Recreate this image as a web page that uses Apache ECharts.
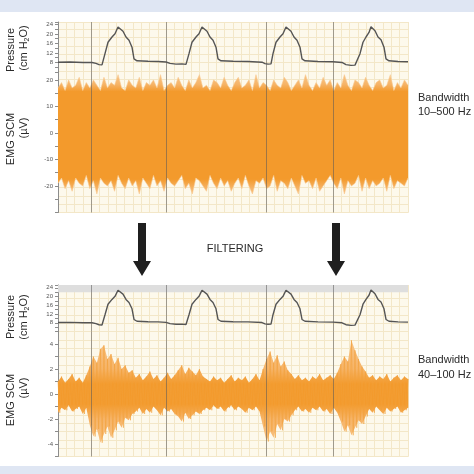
<!DOCTYPE html>
<html lang="en">
<head>
<meta charset="UTF-8">
<title>EMG SCM filtering</title>
<script src="https://cdn.jsdelivr.net/npm/echarts@6/dist/echarts.min.js"></script>
<style>
    html, body { margin: 0; padding: 0; background: #fff; }
    #chart { width: 474px; height: 474px; }
</style>
</head>
<body>
<div id="chart"></div>
<script>
    // pressure trace: [position along strip, cm H2O]
    var pressure = [
        [0, 8.1], [12, 8.2], [25, 8.0], [34, 8.0], [38, 7.6], [41, 7.1], [44, 7.0], [47, 11.7], [50, 16.5],
        [54, 18.7], [57, 20.1], [60, 22.9], [62, 23.3], [65, 21.1], [68, 18.7], [71, 17.3], [74, 14.4],
        [76, 9.5], [79, 8.7], [90, 8.5], [100, 8.4], [108, 8.2],
        [112, 7.6], [118, 7.3], [124, 7.4], [128, 7.2], [131, 11.7], [134, 16.5], [138, 18.7], [141, 20.1],
        [144, 22.9], [146, 23.4], [149, 21.1], [152, 18.7], [155, 17.3], [158, 14.4], [160, 9.5], [163, 8.7],
        [175, 8.5], [190, 8.4], [204, 8.1],
        [207, 7.5], [210, 7.3], [213, 7.4], [215, 11.7], [218, 16.5], [222, 18.7], [225, 20.1], [228, 22.9],
        [230, 23.3], [233, 21.1], [236, 18.7], [239, 17.3], [242, 14.4], [244, 9.5], [247, 8.7], [260, 8.4],
        [275, 8.3], [284, 8.0],
        [288, 7.1], [293, 6.8], [297, 6.9], [299, 7.2], [302, 11.7], [305, 16.5], [308, 18.7], [311, 20.6],
        [313, 23.0], [314, 23.6], [317, 21.3], [320, 18.7], [323, 17.5], [326, 14.4], [328, 9.5], [331, 8.7],
        [340, 8.4], [350, 8.3]
    ];
    // dark marker lines on the strip
    var eventLines = [33.3, 108.3, 208.3, 275];

    // EMG 10-500 Hz, envelope of the raw trace (uV), evenly spaced along the strip
    var emgWideUpper = [
        17, 19, 16, 20, 17, 18, 21, 16, 19, 17,
        20, 18, 16, 21, 17, 19, 18, 22, 17, 16,
        20, 18, 17, 21, 16, 19, 18, 20, 17, 22,
        16, 18, 19, 17, 21, 18, 16, 20, 17, 19,
        22, 17, 18, 16, 20, 19, 17, 21, 18, 16,
        19, 21, 17, 18, 20, 16, 22, 17, 19, 18,
        16, 20, 18, 17, 21, 19, 16, 18, 20, 17,
        22, 18, 16, 19, 17, 21, 18, 20, 16, 19,
        17, 22, 18, 16, 20, 19, 17, 21, 18, 16,
        19, 20, 17, 18, 22, 16, 19, 17, 20, 18
    ];
    var emgWideLower = [
        -19, -17, -21, -18, -22, -17, -19, -20, -16, -21,
        -18, -23, -17, -19, -20, -18, -22, -16, -19, -21,
        -17, -20, -18, -23, -17, -19, -21, -16, -20, -18,
        -22, -17, -19, -20, -18, -16, -21, -19, -23, -17,
        -18, -20, -22, -16, -19, -21, -17, -20, -18, -22,
        -19, -17, -21, -16, -20, -23, -18, -19, -17, -21,
        -20, -16, -22, -18, -19, -21, -17, -20, -23, -16,
        -19, -18, -21, -17, -22, -20, -18, -16, -19, -21,
        -17, -23, -18, -20, -19, -16, -22, -17, -21, -18,
        -20, -19, -17, -22, -16, -21, -18, -19, -20, -17
    ];

    // EMG 40-100 Hz, envelope of the filtered trace (uV)
    var emgNarrowUpper = [
        1.0, 1.4, 0.9, 1.2, 1.6, 1.0, 1.3, 0.9, 1.5,
        2.2, 3.0, 2.5, 3.6, 3.9, 2.8, 3.2, 2.4, 2.9, 2.0, 2.3, 1.7, 1.9,
        1.3, 1.6, 1.1, 1.4, 1.8, 1.2, 1.5, 1.0, 1.3, 1.7, 1.2, 1.5,
        1.9, 2.3, 1.6, 2.1, 1.8, 1.5, 2.0, 1.4,
        1.2, 1.0, 1.4, 1.1, 1.3, 0.9, 1.2, 1.5, 1.0, 1.3, 1.1, 1.4, 0.9, 1.2, 1.6, 1.1,
        2.0, 2.8, 3.4, 2.5, 3.1, 2.2, 2.6, 1.9, 1.6,
        1.2, 1.5, 1.1, 1.3, 1.0, 1.4, 1.2, 1.6, 1.1, 1.3, 1.5, 1.2, 1.7,
        2.4, 3.0, 2.6, 4.3, 3.5, 2.8, 2.2, 1.8,
        1.3, 1.5, 1.1, 1.4, 1.2, 1.6, 1.0, 1.3, 1.5, 1.1, 1.4, 1.2
    ];
    var emgNarrowLower = [
        -1.5, -1.1, -1.3, -0.9, -1.4, -1.2, -1.0, -1.6, -1.1,
        -2.5, -3.4, -2.8, -3.9, -3.2, -2.6, -3.5, -2.9, -2.2, -2.7, -1.9, -2.1, -1.6,
        -1.4, -1.1, -1.6, -1.2, -1.5, -1.0, -1.3, -1.7, -1.1, -1.4, -1.2, -1.6,
        -1.8, -2.2, -1.5, -2.0, -1.7, -1.4, -1.6, -1.3,
        -1.1, -1.3, -0.9, -1.2, -1.0, -1.4, -1.1, -0.9, -1.3, -1.0, -1.2, -1.5, -1.1, -1.3, -1.0, -1.4,
        -2.6, -3.8, -3.0, -3.5, -2.4, -2.9, -2.0, -2.2, -1.7,
        -1.3, -1.0, -1.4, -1.2, -1.5, -1.1, -1.3, -1.0, -1.4, -1.2, -1.6, -1.1, -1.5,
        -2.2, -3.0, -2.5, -3.3, -2.7, -2.1, -2.4, -1.8,
        -1.2, -1.5, -1.0, -1.3, -1.6, -1.1, -1.4, -1.2, -1.0, -1.5, -1.3, -1.1
    ];

    var pressureTicks = [8, 12, 16, 20, 24];
    var emgWideTicks = [-20, -10, 0, 10, 20];
    var emgNarrowTicks = [-4, -2, 0, 2, 4];

    var FONT = 'Liberation Sans, Arial, Helvetica, sans-serif';
    var GRID_LINE = '#f3e7c8';
    var PAPER = '#fdf9ec';
    var STRIP = 350;
    var SQUARE = 25 / 3;   // chart-paper square, px
    var ORANGE = '#f39a2c';
    var PALE = '#f8c990';

    // spread samples evenly along the strip
    function spread(arr) {
        return arr.map(function (v, i) { return [i * STRIP / (arr.length - 1), v]; });
    }
    // interleave both envelopes into one up/down trace
    function zigzag(up, lo) {
        var step = STRIP / (up.length - 1), out = [];
        for (var i = 0; i < up.length; i++) {
            out.push([i * step, up[i]]);
            out.push([Math.min(STRIP, i * step + step / 2), lo[i]]);
        }
        return out;
    }
    function grad(y0, y1, stops) {
        return {
            type: 'linear', x: 0, y: y0, x2: 0, y2: y1, global: true,
            colorStops: stops.map(function (s) { return { offset: s[0], color: s[1] }; })
        };
    }

    function stripAxis(g, lines) {
        return {
            type: 'value', gridIndex: g, min: 0, max: STRIP, interval: SQUARE,
            axisLine: { show: false }, axisTick: { show: false }, axisLabel: { show: false },
            splitLine: { show: lines, lineStyle: { color: GRID_LINE, width: 1 } }
        };
    }
    // hidden axis that only draws the horizontal paper lines
    function paperAxis(g, height) {
        return {
            type: 'value', gridIndex: g, min: 0, max: height, interval: SQUARE,
            axisLine: { show: false }, axisTick: { show: false }, axisLabel: { show: false },
            splitLine: { show: true, lineStyle: { color: GRID_LINE, width: 1 } }
        };
    }
    function levelAxis(g, min, max, step, labels) {
        return {
            type: 'value', gridIndex: g, min: min, max: max, interval: step,
            axisLine: { show: true, lineStyle: { color: '#8c8c8c', width: 1 } },
            axisTick: { show: true, length: 3, lineStyle: { color: '#8c8c8c' } },
            axisLabel: {
                fontSize: 6, color: '#555', margin: 5, fontFamily: FONT,
                formatter: function (v) { return labels.indexOf(v) >= 0 ? String(v) : ''; }
            },
            splitLine: { show: false }
        };
    }
    function eventMarks() {
        return {
            silent: true, symbol: 'none', label: { show: false },
            lineStyle: { color: 'rgba(90,90,90,0.55)', type: 'solid', width: 1 },
            data: eventLines.map(function (x) { return { xAxis: x }; })
        };
    }
    function dataBox(top, height) {
        return { left: 58, right: 66, top: top, height: height, show: false };
    }
    function paperBox(top, height) {
        return { left: 58, right: 66, top: top, height: height, show: true, backgroundColor: PAPER, borderWidth: 0 };
    }
    function vtext(x, y, text, extra) {
        var st = { text: text, fontSize: 11, fontFamily: FONT, fill: '#2a2a2a', align: 'center', verticalAlign: 'middle' };
        if (extra) st.rich = extra;
        return { type: 'text', x: x, y: y, rotation: Math.PI / 2, style: st };
    }
    var h2o = {
        a: { fontSize: 11, fontFamily: FONT, fill: '#2a2a2a' },
        b: { fontSize: 7, fontFamily: FONT, fill: '#2a2a2a', padding: [7, 0, 0, 0] }
    };
    function label(x, y, text, align) {
        return { type: 'text', x: x, y: y, style: { text: text, fontSize: 11, fontFamily: FONT, fill: '#2a2a2a', align: align || 'left', verticalAlign: 'middle' } };
    }
    function arrow(cx) {
        return {
            type: 'polygon',
            shape: { points: [[cx - 4, 223], [cx + 4, 223], [cx + 4, 261], [cx + 9, 261], [cx, 276], [cx - 9, 261], [cx - 4, 261]] },
            style: { fill: '#1f1f1f' }
        };
    }

    var chart = echarts.init(document.getElementById('chart'));
    var option = {
        animation: false,
        backgroundColor: '#fff',
        grid: [
            dataBox(22, 50), dataBox(72, 140.5), dataBox(285, 46.5), dataBox(331.5, 125),
            paperBox(22, 190.5), paperBox(285, 171.5)
        ],
        xAxis: [
            stripAxis(0, false), stripAxis(1, false), stripAxis(2, false), stripAxis(3, false),
            stripAxis(4, true), stripAxis(5, true)
        ],
        yAxis: [
            levelAxis(0, 4, 25, 2, pressureTicks),
            levelAxis(1, -30, 23, 5, emgWideTicks),
            levelAxis(2, 4, 25.3, 2, pressureTicks),
            levelAxis(3, -5, 5, 1, emgNarrowTicks),
            paperAxis(4, 190.5),
            paperAxis(5, 171.5)
        ],
        series: [
            {
                type: 'line', xAxisIndex: 0, yAxisIndex: 0, data: pressure, symbol: 'none',
                lineStyle: { color: '#555', width: 1.4 }, markLine: eventMarks(), z: 3
            },
            {
                type: 'line', xAxisIndex: 1, yAxisIndex: 1, data: spread(emgWideUpper), symbol: 'none',
                lineStyle: { color: PALE, width: 0.6 },
                areaStyle: { opacity: 1, color: grad(72, 133, [[0, PALE], [0.2, '#f6b468'], [0.32, ORANGE], [1, ORANGE]]) }
            },
            {
                type: 'line', xAxisIndex: 1, yAxisIndex: 1, data: spread(emgWideLower), symbol: 'none',
                lineStyle: { color: PALE, width: 0.6 },
                areaStyle: { opacity: 1, color: grad(133, 212.5, [[0, ORANGE], [0.58, ORANGE], [0.7, '#f6b468'], [0.85, PALE], [1, PALE]]) },
                markLine: eventMarks()
            },
            {
                type: 'line', xAxisIndex: 2, yAxisIndex: 2, data: pressure, symbol: 'none',
                lineStyle: { color: '#555', width: 1.4 }, markLine: eventMarks(), z: 3,
                markArea: { silent: true, itemStyle: { color: '#dedede' }, data: [[{ yAxis: 22 }, { yAxis: 25.3 }]] }
            },
            {
                type: 'line', xAxisIndex: 3, yAxisIndex: 3, data: spread(emgNarrowUpper), symbol: 'none',
                lineStyle: { width: 0 },
                areaStyle: { opacity: 1, color: grad(331.5, 394, [[0, PALE], [0.6, '#f6b468'], [0.84, ORANGE], [1, ORANGE]]) }
            },
            {
                type: 'line', xAxisIndex: 3, yAxisIndex: 3, data: spread(emgNarrowLower), symbol: 'none',
                lineStyle: { width: 0 },
                areaStyle: { opacity: 1, color: grad(394, 456.5, [[0, ORANGE], [0.16, ORANGE], [0.4, '#f6b468'], [1, PALE]]) }
            },
            {
                type: 'line', xAxisIndex: 3, yAxisIndex: 3, data: zigzag(emgNarrowUpper, emgNarrowLower), symbol: 'none',
                lineStyle: { color: '#f2a03a', width: 0.6, opacity: 0.9 }, markLine: eventMarks()
            }
        ],
        graphic: [
            { type: 'rect', shape: { x: 0, y: 0, width: 474, height: 12 }, style: { fill: '#dfe6f3' } },
            { type: 'rect', shape: { x: 0, y: 466, width: 474, height: 8 }, style: { fill: '#dfe6f3' } },
            vtext(11, 50, 'Pressure'),
            vtext(24, 48, '{a|(cm H}{b|2}{a|O)}', h2o),
            vtext(11, 139, 'EMG SCM'),
            vtext(24, 128, '(\u00b5V)'),
            vtext(11, 317, 'Pressure'),
            vtext(24, 317, '{a|(cm H}{b|2}{a|O)}', h2o),
            vtext(11, 400, 'EMG SCM'),
            vtext(24, 388, '(\u00b5V)'),
            label(418, 98, 'Bandwidth'),
            label(418, 112, '10\u2013500 Hz'),
            label(418, 360, 'Bandwidth'),
            label(418, 375, '40\u2013100 Hz'),
            label(235, 249, 'FILTERING', 'center'),
            arrow(142),
            arrow(336)
        ]
    };
    chart.setOption(option);
</script>
</body>
</html>
